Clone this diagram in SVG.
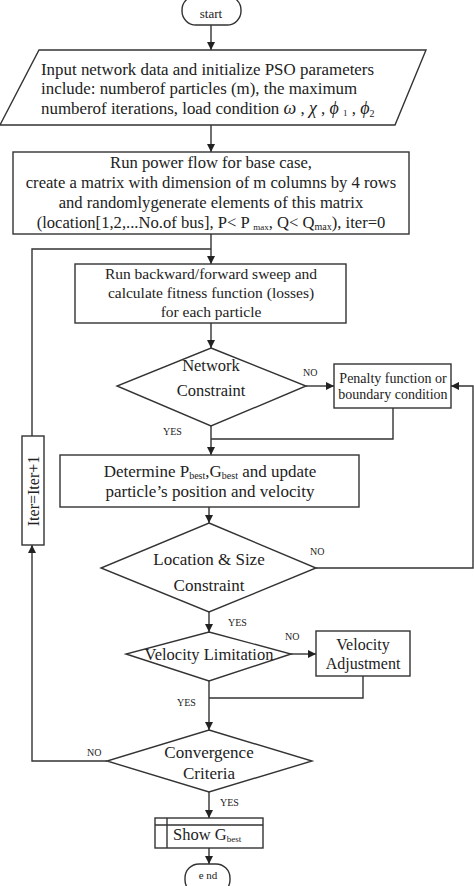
<svg xmlns="http://www.w3.org/2000/svg" width="474" height="886" viewBox="0 0 474 886">
<defs>
<marker id="ah" viewBox="0 0 10 10" refX="10" refY="5" markerWidth="8" markerHeight="8" markerUnits="userSpaceOnUse" orient="auto">
<path d="M0,0 L10,5 L0,10 z" fill="#222"/>
</marker>
<style>
.s{fill:#fff;stroke:#333;stroke-width:1.4}
.c{fill:none;stroke:#333;stroke-width:1.4}
.a{marker-end:url(#ah)}
text{font-family:"Liberation Serif","Times New Roman",serif;fill:#222}
.m{text-anchor:middle}
.lb{font-size:10px}
</style>
</defs>
<rect width="474" height="886" fill="#fff"/>
<g id="connectors">
<path class="c a" d="M211,25 V50"/>
<path class="c a" d="M211,125 V152"/>
<path class="c a" d="M211,234 V264"/>
<path class="c" d="M32,436 V249 H211"/>
<path class="c a" d="M211,323 V348"/>
<path class="c a" d="M306,386 H334"/>
<path class="c a" d="M211,426 V455"/>
<path class="c" d="M393,408 V439 H211"/>
<path class="c a" d="M209,507 V523"/>
<path class="c a" d="M316,568 H473 V386 H451"/>
<path class="c a" d="M209,612 V632"/>
<path class="c a" d="M291,654 H316"/>
<path class="c a" d="M209,681 V730"/>
<path class="c" d="M363,676 V698 H209"/>
<path class="c a" d="M107,761 H32 V545"/>
<path class="c a" d="M209,792 V818"/>
<path class="c a" d="M209,848 V864"/>
<text class="lb" x="303" y="376">NO</text>
<text class="lb" x="163" y="435">YES</text>
<text class="lb" x="310" y="555">NO</text>
<text class="lb" x="228" y="626">YES</text>
<text class="lb" x="285" y="640">NO</text>
<text class="lb" x="177" y="706">YES</text>
<text class="lb" x="87" y="756">NO</text>
<text class="lb" x="220" y="806">YES</text>
</g>
<g id="start">
<rect class="s" x="182" y="-4" width="59" height="29" rx="14"/>
<text class="m" x="211" y="18" font-size="13">start</text>
</g>
<g id="input">
<polygon class="s" points="39,50 426,50 395,125 0,125"/>
<text x="41" y="75" font-size="16.9">Input network data and initialize PSO parameters</text>
<text x="41" y="94" font-size="16.9">include: numberof particles (m), the maximum</text>
<text x="41" y="114" font-size="16.9">numberof iterations, load condition <tspan font-style="italic" font-size="18">ω</tspan> , <tspan font-style="italic" font-size="18">χ</tspan> , <tspan font-style="italic" font-size="18">ϕ</tspan> <tspan font-size="9" dy="2">1</tspan><tspan dy="-2"> , </tspan><tspan font-style="italic" font-size="18">ϕ</tspan><tspan font-size="10" dy="3">2</tspan></text>
</g>
<g id="powerflow">
<rect class="s" x="13" y="152" width="396" height="82"/>
<text class="m" x="211" y="168" font-size="16.6">Run power flow for base case,</text>
<text class="m" x="211" y="188" font-size="16.6">create a matrix with dimension of m columns by 4 rows</text>
<text class="m" x="211" y="208" font-size="16.6">and randomlygenerate elements of this matrix</text>
<text class="m" x="211" y="228" font-size="16.6">(location[1,2,...No.of bus], P&lt; P <tspan font-size="9" dy="2">max</tspan><tspan dy="-2">, Q&lt; Q</tspan><tspan font-size="10" dy="2">max</tspan><tspan dy="-2">), iter=0</tspan></text>
</g>
<g id="sweep">
<rect class="s" x="75" y="264" width="271" height="59"/>
<text class="m" x="211" y="279" font-size="15.5">Run backward/forward sweep and</text>
<text class="m" x="211" y="298" font-size="15.5">calculate fitness  function (losses)</text>
<text class="m" x="211" y="317" font-size="15.5">for each particle</text>
</g>
<g id="network">
<polygon class="s" points="211,348 306,386 211,426 117,386"/>
<text class="m" x="211" y="371" font-size="16.5">Network</text>
<text class="m" x="211" y="396" font-size="16.5">Constraint</text>
</g>
<g id="penalty">
<rect class="s" x="334" y="364" width="117" height="44"/>
<text class="m" x="393" y="383" font-size="14">Penalty function or</text>
<text class="m" x="393" y="399" font-size="14">boundary condition</text>
</g>
<g id="update">
<rect class="s" x="60" y="455" width="299" height="52"/>
<text class="m" x="210" y="477" font-size="17">Determine P<tspan font-size="10" dy="2">best</tspan><tspan dy="-2">,G</tspan><tspan font-size="10" dy="2">best</tspan><tspan dy="-2">  and update</tspan></text>
<text class="m" x="210" y="497" font-size="17">particle’s  position and velocity</text>
</g>
<g id="iter">
<rect class="s" x="22" y="436" width="22" height="109"/>
<text class="m" x="0" y="0" font-size="16" transform="translate(38.5,491) rotate(-90)">Iter=Iter+1</text>
</g>
<g id="location">
<polygon class="s" points="209,523 316,568 209,612 101,568"/>
<text class="m" x="209" y="565" font-size="17">Location &amp; Size</text>
<text class="m" x="209" y="591" font-size="17">Constraint</text>
</g>
<g id="velocity">
<polygon class="s" points="209,632 291,654 209,681 126,654"/>
<text class="m" x="209" y="660" font-size="16.5">Velocity Limitation</text>
</g>
<g id="adjust">
<rect class="s" x="316" y="631" width="94" height="45"/>
<text class="m" x="363" y="650" font-size="16">Velocity</text>
<text class="m" x="363" y="669" font-size="16">Adjustment</text>
</g>
<g id="convergence">
<polygon class="s" points="209,730 312,761 209,792 107,761"/>
<text class="m" x="209" y="758" font-size="17">Convergence</text>
<text class="m" x="209" y="779" font-size="17">Criteria</text>
</g>
<g id="show">
<rect class="s" x="155" y="818" width="108" height="30"/>
<path class="c" d="M155,825 H263 M167,818 V848"/>
<text x="173" y="840" font-size="16.5">Show G<tspan font-size="9" dy="2">best</tspan></text>
</g>
<g id="end">
<rect class="s" x="185" y="864" width="45" height="30" rx="14"/>
<text class="m" x="208" y="879" font-size="11">e nd</text>
</g>
</svg>
